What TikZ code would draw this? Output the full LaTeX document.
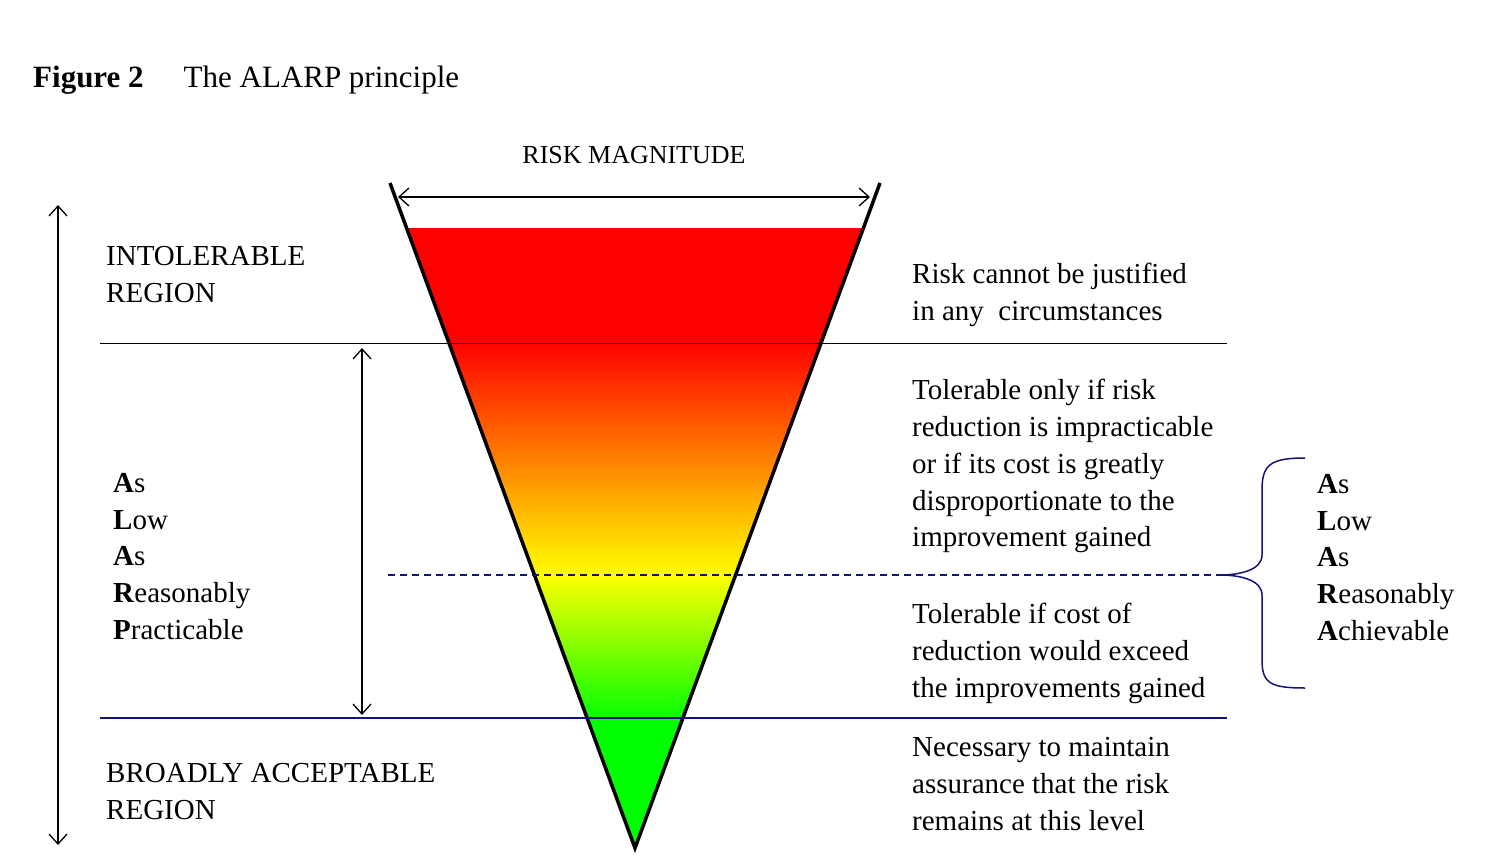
\documentclass[tikz,border=0pt]{standalone}
\usepackage{fontspec}
\usetikzlibrary{arrows.meta}
\setmainfont{Liberation Serif}
\definecolor{navy}{RGB}{20,20,120}
\begin{document}
\begin{tikzpicture}[x=1pt,y=-1pt,
  txt/.style={anchor=north west,inner sep=0pt,align=left,font=\fontsize{29}{36.8}\selectfont},
  arr/.style={<->,line width=1.3pt,>={Straight Barb[length=10pt,width=18pt]}}]
\useasboundingbox (0,0) rectangle (1507,864);
\begin{scope}
\clip (408,228) -- (862,228) -- (635,848) -- cycle;
\fill[red] (380,220) rectangle (890,342);
\shade[top color=red,bottom color=yellow,middle color=orange] (380,341) rectangle (890,576);
\shade[top color=yellow,bottom color=green] (380,575) rectangle (890,721);
\fill[green] (380,720) rectangle (890,860);
\end{scope}
\coordinate (tl) at (390,183); \coordinate (tr) at (880,183); \coordinate (ap) at (635,848);
\draw[line width=3.5pt] (tl) -- (ap) -- (tr);
\coordinate (ml) at (398,197); \coordinate (mr) at (870,197);
\draw[arr] (ml) -- (mr);
\node (rm) at (634,155) {\fontsize{26}{30}\selectfont RISK MAGNITUDE};
\coordinate (h1a) at (100,343); \coordinate (h1b) at (1227,343);
\draw[line width=0.8pt] (h1a) -- (h1b);
\coordinate (h2a) at (388,575); \coordinate (h2b) at (1220,575);
\draw[navy,dashed,line width=1.2pt,dash pattern=on 7pt off 5pt] (h2a) -- (h2b);
\coordinate (h3a) at (100,718); \coordinate (h3b) at (1227,718);
\draw[navy,line width=1.3pt] (h3a) -- (h3b);
\coordinate (a1) at (58,205); \coordinate (a2) at (58,845);
\draw[arr] (a1) -- (a2);
\coordinate (b1) at (362,348); \coordinate (b2) at (362,715);
\draw[arr] (b1) -- (b2);
\draw[navy,line width=1.5pt] (1305,458) .. controls (1270,458) and (1262,465) .. (1262,490) -- (1262,555) .. controls (1262,570) and (1240,575) .. (1220,575)
  .. controls (1240,575) and (1262,580) .. (1262,595) -- (1262,660) .. controls (1262,683) and (1270,688) .. (1305,688);
\node[txt,font=\fontsize{31}{37}\selectfont] (fig) at (33,66) {\textbf{Figure 2}\hspace{40pt}The ALARP principle};
\node[txt] (intol) at (106,246) {INTOLERABLE\\REGION};
\node[txt] (t1) at (912,263) {Risk cannot be justified\\in any\ \ circumstances};
\node[txt] (t2) at (912,379) {Tolerable only if risk\\reduction is impracticable\\or if its cost is greatly\\disproportionate to the\\improvement gained};
\node[txt] (al) at (113,473) {\textbf{A}s\\\textbf{L}ow\\\textbf{A}s\\\textbf{R}easonably\\\textbf{P}racticable};
\node[txt] (ar) at (1317,474) {\textbf{A}s\\\textbf{L}ow\\\textbf{A}s\\\textbf{R}easonably\\\textbf{A}chievable};
\node[txt] (t3) at (912,603) {Tolerable if cost of\\reduction would exceed\\the improvements gained};
\node[txt] (t4) at (912,737) {Necessary to maintain\\assurance that the risk\\remains at this level};
\node[txt] (br) at (106,763) {BROADLY ACCEPTABLE\\REGION};
\end{tikzpicture}
\end{document}
